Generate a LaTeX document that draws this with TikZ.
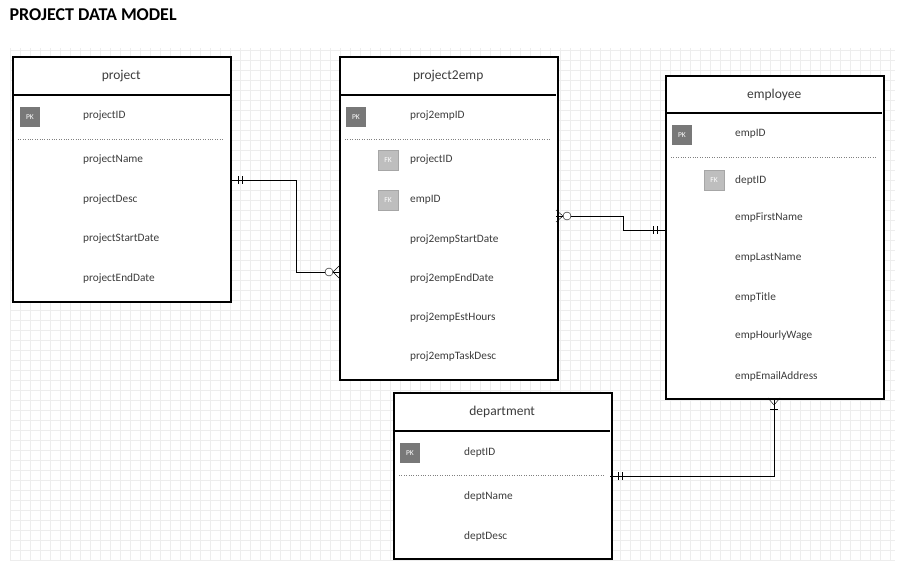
\documentclass[tikz,border=0pt]{standalone}
\usepackage{fontspec}
\setmainfont{Carlito}
\usetikzlibrary{positioning}
\definecolor{pkgray}{RGB}{120,120,120}
\definecolor{fkgray}{RGB}{190,190,190}
\definecolor{txtgray}{RGB}{60,60,60}
\begin{document}
\begin{tikzpicture}[x=1pt,y=-1pt,
		tbl/.style={rectangle, draw=black, line width=1.8pt, fill=white, anchor=north west, minimum width=218pt, inner sep=0pt},
		head/.style={rectangle, anchor=north west, minimum width=218pt, minimum height=39pt, inner sep=0pt, font=\fontsize{13.5}{15}\selectfont, text=txtgray},
		field/.style={anchor=west, inner sep=0pt, font=\fontsize{11.3}{13}\selectfont, text=txtgray},
		pk/.style={rectangle, fill=pkgray, text=white, minimum width=20pt, minimum height=20pt, inner sep=0pt, font=\fontsize{7.5}{8}\selectfont},
		fk/.style={rectangle, fill=fkgray, draw=gray!70, text=white, minimum width=20pt, minimum height=20pt, inner sep=0pt, font=\fontsize{7.5}{8}\selectfont},
		sep/.style={dotted, gray},
		rel/.style={thin, black}
	]
	\useasboundingbox (0,0) rectangle (908,562);
	\node[anchor=north west, font=\bfseries\fontsize{18}{20}\selectfont] (title) at (6,5) {PROJECT DATA MODEL};
	% grid
	\foreach \x in {10,20,...,890} \draw[gray!14] (\x,48) -- (\x,560);
	\foreach \y in {50,60,...,560} \draw[gray!14] (10,\y) -- (895,\y);

	% project
	\node[tbl, minimum height=245pt] (proj) at (12,56) {};
	\node[head] (projh) at (12,56) {project};
	\draw[line width=1.8pt] (12,95) -- (230,95);
	\node[pk] (projpk) at (30,117) {PK};
	\node[field] (projid) at (83,116) {projectID};
	\draw[sep] (18,139) -- (224,139);
	\foreach \t/\y in {projectName/160, projectDesc/200, projectStartDate/239, projectEndDate/279}
		\node[field] at (83,\y) {\t};

	% project2emp
	\node[tbl, minimum height=323pt] (p2e) at (339,56) {};
	\node[head] (p2eh) at (339,56) {project2emp};
	\draw[line width=1.8pt] (339,95) -- (556,95);
	\node[pk] (p2epk) at (356,117) {PK};
	\node[field] (p2eid) at (410,116) {proj2empID};
	\draw[sep] (345,139) -- (550,139);
	\node[fk] (p2efk1) at (388,160) {FK};
	\node[fk] (p2efk2) at (388,200) {FK};
	\foreach \t/\y in {projectID/160, empID/200, proj2empStartDate/240, proj2empEndDate/279, proj2empEstHours/318, proj2empTaskDesc/357}
		\node[field] at (410,\y) {\t};

	% employee
	\node[tbl, minimum height=323pt] (emp) at (665,75) {};
	\node[head] (emph) at (665,75) {employee};
	\draw[line width=1.8pt] (665,113) -- (882,113);
	\node[pk] (emppk) at (682,135) {PK};
	\node[field] (empid) at (735,134) {empID};
	\draw[sep] (671,157) -- (876,157);
	\node[fk] (empfk) at (714,180) {FK};
	\foreach \t/\y in {deptID/180, empFirstName/218, empLastName/258, empTitle/297, empHourlyWage/336, empEmailAddress/376}
		\node[field] at (735,\y) {\t};

	% department
	\node[tbl, minimum height=166pt] (dept) at (393,392) {};
	\node[head] (depth) at (393,392) {department};
	\draw[line width=1.8pt] (393,431) -- (610,431);
	\node[pk] (deptpk) at (410,453) {PK};
	\node[field] (deptid) at (464,452) {deptID};
	\draw[sep] (399,475) -- (604,475);
	\foreach \t/\y in {deptName/496, deptDesc/536}
		\node[field] at (464,\y) {\t};

	% relationships
	\coordinate (r1a) at (230,180);
	\coordinate (r1b) at (339,272);
	\draw[rel] (r1a) -- (296,180) |- (r1b);
	\draw[rel] (238,176) -- (238,184) (242,176) -- (242,184);
	\draw[rel, fill=white] (329,272) circle (4);
	\draw[rel] (333,272) -- (339,266) (333,272) -- (339,278);

	\coordinate (r2a) at (556,216);
	\coordinate (r2b) at (665,230);
	\draw[rel] (r2a) -- (623,216) |- (r2b);
	\draw[rel, fill=white] (567,216) circle (4);
	\draw[rel] (563,216) -- (556,210) (563,216) -- (556,222);
	\draw[rel] (653,226) -- (653,234) (657,226) -- (657,234);

	\coordinate (r3a) at (610,476);
	\coordinate (r3b) at (774,398);
	\draw[rel] (r3a) -| (r3b);
	\draw[rel] (618,472) -- (618,480) (622,472) -- (622,480);
	\draw[rel] (774,405) -- (768,398) (774,405) -- (780,398);
	\draw[rel] (770,409) -- (778,409);
\end{tikzpicture}
\end{document}
